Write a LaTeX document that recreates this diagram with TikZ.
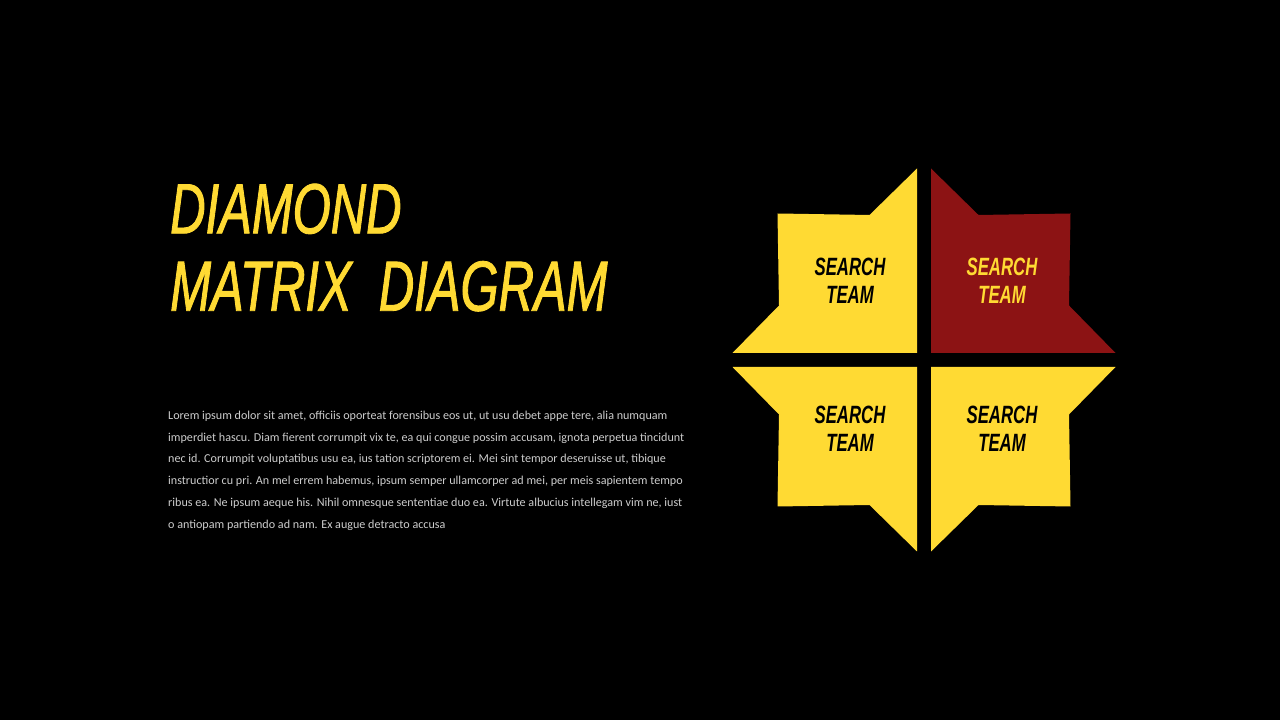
\documentclass[tikz,border=0pt]{standalone}
\usepackage{fontspec}
\setmainfont{Carlito}
\newfontfamily\titlefont[FakeStretch=0.69, FakeBold=1.2]{Liberation Sans}
\newfontfamily\teamfont[FakeStretch=0.67]{Liberation Sans}
\newfontfamily\bodyfont{Carlito}
\definecolor{sunyellow}{RGB}{255,218,51}
\definecolor{deepred}{RGB}{140,19,20}
\definecolor{bodygrey}{RGB}{205,205,205}
\tikzset{
  titletext/.style={text=sunyellow, inner sep=0pt, font=\titlefont\itshape\fontsize{71}{77}\selectfont},
  teamtext/.style={text=#1, align=center, inner sep=0pt, font=\teamfont\bfseries\itshape\fontsize{25}{28.5}\selectfont},
  bodytext/.style={text=bodygrey, inner sep=0pt, font=\bodyfont\fontsize{12.1}{13}\selectfont}
}

\begin{document}
\begin{tikzpicture}[x=1pt,y=1pt]
  \def\cx{924}
  \def\cy{360}

  \fill[black] (0,0) rectangle (1280,720);
  \useasboundingbox (0,0) rectangle (1280,720);

  % four quarters of the diamond
  \foreach \sx/\sy/\col in {1/1/deepred, -1/1/sunyellow, -1/-1/sunyellow, 1/-1/sunyellow}
    \fill[\col, shift={(\cx,\cy)}, xscale=\sx, yscale=\sy]
      (7,191.5) -- (54.5,145) -- (146.5,146.5) -- (145,54.5) -- (191.5,7) -- (7,7) -- cycle;

  \node[teamtext=black]     (tl) at (\cx-74,\cy+79) {SEARCH\\TEAM};
  \node[teamtext=sunyellow] (tr) at (\cx+78,\cy+79) {SEARCH\\TEAM};
  \node[teamtext=black]     (bl) at (\cx-74,\cy-69) {SEARCH\\TEAM};
  \node[teamtext=black]     (br) at (\cx+78,\cy-69) {SEARCH\\TEAM};

  % title
  \node[titletext, anchor=base west] (titletop)    at (170,486.7) {DIAMOND};
  \node[titletext, anchor=base west] (titlebottom) at (170,409.3) {MATRIX~~DIAGRAM};

  % body text
  \foreach \txt [count=\i] in {
    {Lorem ipsum dolor sit amet, officiis oporteat forensibus eos ut, ut usu debet appe tere, alia numquam},
    {imperdiet hascu. Diam fierent corrumpit vix te, ea qui congue possim accusam, ignota perpetua tincidunt},
    {nec id. Corrumpit voluptatibus usu ea, ius tation scriptorem ei. Mei sint tempor deseruisse ut, tibique},
    {instructior cu pri. An mel errem habemus, ipsum semper ullamcorper ad mei, per meis sapientem tempo},
    {ribus ea. Ne ipsum aeque his. Nihil omnesque sententiae duo ea. Virtute albucius intellegam vim ne, iust},
    {o antiopam partiendo ad nam. Ex augue detracto accusa}}
    \node[bodytext, anchor=base west] (body\i) at (168,{300.7-21.8*(\i-1)}) {\txt};
\end{tikzpicture}
\end{document}
